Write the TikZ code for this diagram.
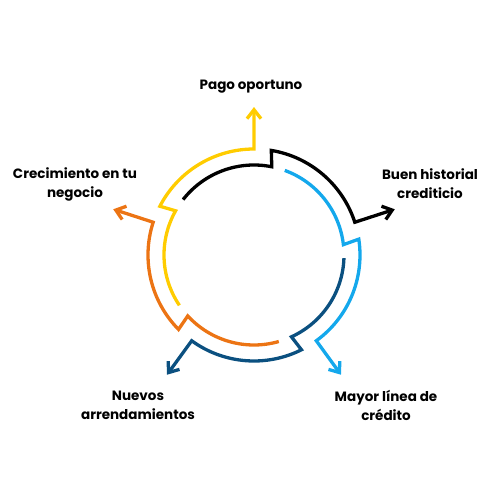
\documentclass[tikz,border=0pt]{standalone}
\usepackage{fontspec}
\setmainfont{Poppins}
\usetikzlibrary{arrows.meta}
\definecolor{cyellow}{HTML}{FFCC00}
\definecolor{cblue}{HTML}{14A8EC}
\definecolor{cnavy}{HTML}{0B5080}
\definecolor{corange}{HTML}{EC7414}
\begin{document}
\begin{tikzpicture}[x=0.5pt,y=0.5pt,
  cyc/.style={line width=1.65pt, line cap=butt, line join=miter, -{Straight Barb[length=4.5pt,width=7pt]}},
  lbl/.style={font=\bfseries\fontsize{6.75}{9.5}\selectfont, align=center, text=black}]
\useasboundingbox (0,0) rectangle (500,500);
\coordinate (c) at (254,245);
\foreach \a/\col/\nm in {90/cyellow/py, 18/black/pb, -54/cblue/pl, -126/cnavy/pn, 162/corange/po}{
  \coordinate (\nm-in) at ([shift={(\a+124:90)}]c);
  \coordinate (\nm-out) at ([shift={(\a+62.6:106)}]c);
  \coordinate (\nm-tip) at ([shift={(\a:148)}]c);
  \draw[cyc,\col] (\nm-in) arc[start angle=\a+124, end angle=\a+60.6, radius=90]
    -- (\nm-out) arc[start angle=\a+62.6, end angle=\a, radius=106] -- (\nm-tip);
}
\node[lbl] (lpago) at (251,413) {Pago oportuno};
\node[lbl] (lcrec) at (75,316) {Crecimiento en tu\\negocio};
\node[lbl] (lbuen) at (430,316) {Buen historial\\crediticio};
\node[lbl] (lnuev) at (138,95) {Nuevos\\arrendamientos};
\node[lbl] (lmay) at (386,95) {Mayor línea de\\crédito};
\end{tikzpicture}
\end{document}
